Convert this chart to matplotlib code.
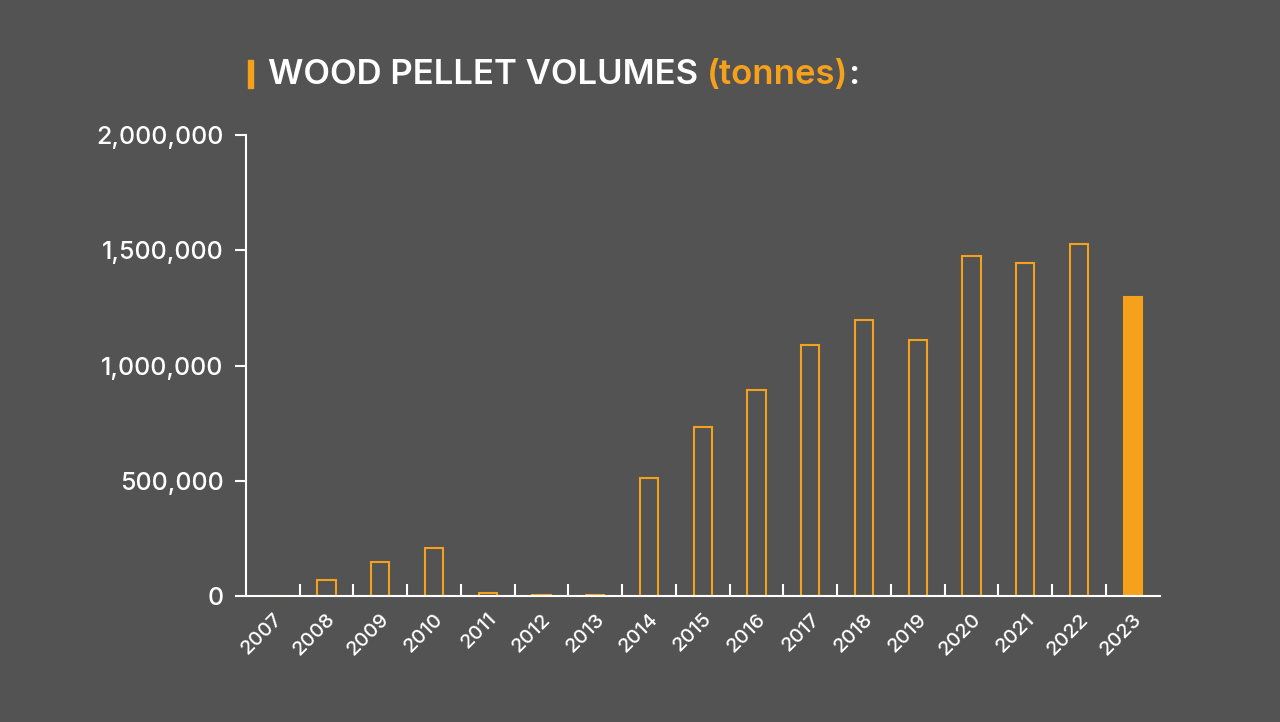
import matplotlib.pyplot as plt
from matplotlib.ticker import FuncFormatter

years = [str(y) for y in range(2007, 2024)]
volumes = [0, 70000, 147000, 208000, 15000, 2500, 2500, 512000, 733000, 894000,
           1089000, 1197000, 1110000, 1475000, 1445000, 1527000, 1297000]

BG = "#535353"
ORANGE = "#f5a11c"
plt.rcParams["font.family"] = ["Inter", "DejaVu Sans"]

fig = plt.figure(figsize=(12.8, 7.22), dpi=100, facecolor=BG)
ax = fig.add_axes([0.192, 0.1745, 0.714, 0.6385], facecolor=BG)

x = range(len(years))
for i, v in zip(x, volumes):
    last = i == len(years) - 1
    ax.bar(i, v, width=0.34, facecolor=ORANGE if last else "none",
           edgecolor=ORANGE, linewidth=1.5)

ax.set_xlim(-0.5, len(years) - 0.5)
ax.set_ylim(0, 2000000)
ax.set_yticks([0, 500000, 1000000, 1500000, 2000000])
ax.yaxis.set_major_formatter(FuncFormatter(lambda v, p: f"{int(v):,}"))
ax.tick_params(axis="y", colors="white", labelsize=18, length=8, width=1.5, pad=8)
for lab in ax.get_yticklabels():
    lab.set_fontweight("medium")

ax.set_xticks([i + 0.5 for i in range(len(years) - 1)])
ax.set_xticklabels([])
ax.tick_params(axis="x", direction="in", length=9, width=1.5, colors="white")
ax.set_xticks(list(x), minor=True)
ax.set_xticklabels(years, minor=True, rotation=45, ha="right", rotation_mode="anchor",
                   fontweight="medium")
ax.tick_params(axis="x", which="minor", length=0, labelsize=14.5, colors="white", pad=10)

for s in ["top", "right"]:
    ax.spines[s].set_visible(False)
for s in ["left", "bottom"]:
    ax.spines[s].set_color("white")
    ax.spines[s].set_linewidth(1.5)

# title built from pieces so the unit can be orange
fig.patches.append(plt.Rectangle((248 / 1280, 1 - 88 / 722), 5 / 1280, 28 / 722,
                                 transform=fig.transFigure, color=ORANGE))
ty = 1 - 75 / 722
t1 = fig.text(268 / 1280, ty, "WOOD PELLET VOLUMES ", color="white",
              fontsize=25, fontweight="semibold", va="center")
fig.canvas.draw()
t2 = fig.text(t1.get_window_extent().x1 / fig.bbox.width, ty, "(tonnes)", color=ORANGE,
              fontsize=25, fontweight="semibold", va="center")
fig.canvas.draw()
fig.text(t2.get_window_extent().x1 / fig.bbox.width, ty, ":", color="white",
         fontsize=25, fontweight="semibold", va="center")

fig.savefig("out.png", dpi=100, facecolor=BG)
